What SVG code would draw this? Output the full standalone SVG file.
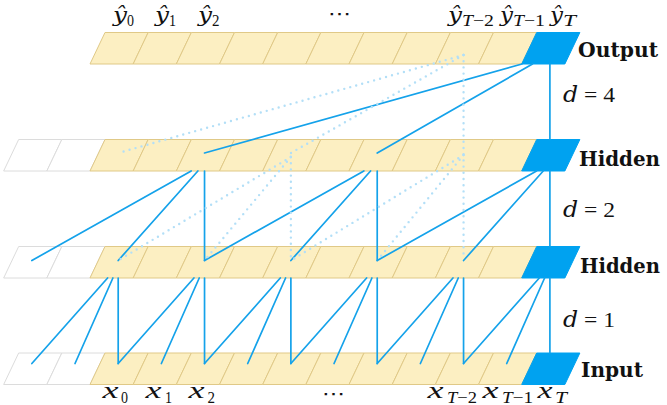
<svg xmlns="http://www.w3.org/2000/svg" xmlns:xlink="http://www.w3.org/1999/xlink" width="667" height="405" viewBox="0 0 667 405">
<style>
.beige{fill:#fcefc2;stroke:#e0c987;stroke-width:1}
.white{fill:#ffffff;stroke:#dcdcdc;stroke-width:1}
.blue{fill:#00a2f0;stroke:#00a2f0;stroke-width:1}
.conn line{stroke:#14a2ea;stroke-width:1.7;stroke-linecap:round;fill:none}
.dots line{stroke:#b3dff7;stroke-width:2.4;stroke-linecap:round;stroke-dasharray:0 6.2;fill:none}
.m{font-family:"DejaVu Serif","Liberation Serif",serif;font-size:20px;font-style:italic;fill:#111}
.mx{font-family:"Liberation Serif","Times New Roman",serif;font-size:24px;font-style:italic;fill:#111}
.s{font-family:"Liberation Serif","Times New Roman",serif;font-size:16px;fill:#111}
.b{font-family:"DejaVu Serif","Liberation Serif",serif;font-size:20px;font-weight:bold;fill:#111}
.d{font-family:"Liberation Serif","Times New Roman",serif;font-size:22px;fill:#111}
.di{font-family:"DejaVu Serif","Liberation Serif",serif;font-style:italic}
.dots3{font-family:"DejaVu Sans","Liberation Sans",sans-serif;font-size:18px;fill:#111}
</style>
<defs>
<polygon id="cell" points="0,0 43.17,0 28.17,31.5 -15,31.5"/>
</defs>

<g id="row-input">
<use xlink:href="#cell" class="white" x="18.66" y="353"/>
<use xlink:href="#cell" class="white" x="61.83" y="353"/>
<use xlink:href="#cell" class="beige" x="105" y="353"/>
<use xlink:href="#cell" class="beige" x="148.17" y="353"/>
<use xlink:href="#cell" class="beige" x="191.34" y="353"/>
<use xlink:href="#cell" class="beige" x="234.51" y="353"/>
<use xlink:href="#cell" class="beige" x="277.68" y="353"/>
<use xlink:href="#cell" class="beige" x="320.85" y="353"/>
<use xlink:href="#cell" class="beige" x="364.02" y="353"/>
<use xlink:href="#cell" class="beige" x="407.19" y="353"/>
<use xlink:href="#cell" class="beige" x="450.36" y="353"/>
<use xlink:href="#cell" class="beige" x="493.53" y="353"/>
<use xlink:href="#cell" class="blue" x="536.7" y="353"/>
<text class="b" x="581" y="377" textLength="62" lengthAdjust="spacingAndGlyphs">Input</text>
<text class="mx" x="102.5" y="397.5" textLength="16" lengthAdjust="spacingAndGlyphs">x</text>
<text class="s" x="121" y="402.5" textLength="7" lengthAdjust="spacingAndGlyphs">0</text>
<text class="mx" x="145.5" y="397.5" textLength="16" lengthAdjust="spacingAndGlyphs">x</text>
<text class="s" x="165" y="402.5" textLength="7" lengthAdjust="spacingAndGlyphs">1</text>
<text class="mx" x="188.5" y="397.5" textLength="16" lengthAdjust="spacingAndGlyphs">x</text>
<text class="s" x="207.5" y="402.5" textLength="7.5" lengthAdjust="spacingAndGlyphs">2</text>
<text class="dots3" x="322" y="400" textLength="23" lengthAdjust="spacingAndGlyphs">⋯</text>
<text class="mx" x="427.5" y="397.5" textLength="16" lengthAdjust="spacingAndGlyphs">x</text>
<text class="s" x="447" y="402.5" textLength="30" lengthAdjust="spacingAndGlyphs"><tspan font-style="italic">T</tspan>−2</text>
<text class="mx" x="482.5" y="397.5" textLength="16" lengthAdjust="spacingAndGlyphs">x</text>
<text class="s" x="502" y="402.5" textLength="31" lengthAdjust="spacingAndGlyphs"><tspan font-style="italic">T</tspan>−1</text>
<text class="mx" x="537.5" y="397.5" textLength="15" lengthAdjust="spacingAndGlyphs">x</text>
<text class="s" x="555" y="402.5" textLength="12" lengthAdjust="spacingAndGlyphs" font-style="italic">T</text>
</g>

<g id="row-hidden-lower">
<use xlink:href="#cell" class="white" x="18.66" y="246.5"/>
<use xlink:href="#cell" class="white" x="61.83" y="246.5"/>
<use xlink:href="#cell" class="beige" x="105" y="246.5"/>
<use xlink:href="#cell" class="beige" x="148.17" y="246.5"/>
<use xlink:href="#cell" class="beige" x="191.34" y="246.5"/>
<use xlink:href="#cell" class="beige" x="234.51" y="246.5"/>
<use xlink:href="#cell" class="beige" x="277.68" y="246.5"/>
<use xlink:href="#cell" class="beige" x="320.85" y="246.5"/>
<use xlink:href="#cell" class="beige" x="364.02" y="246.5"/>
<use xlink:href="#cell" class="beige" x="407.19" y="246.5"/>
<use xlink:href="#cell" class="beige" x="450.36" y="246.5"/>
<use xlink:href="#cell" class="beige" x="493.53" y="246.5"/>
<use xlink:href="#cell" class="blue" x="536.7" y="246.5"/>
<text class="b" x="580" y="273" textLength="80" lengthAdjust="spacingAndGlyphs">Hidden</text>
</g>

<g id="row-hidden-upper">
<use xlink:href="#cell" class="white" x="18.66" y="139.5"/>
<use xlink:href="#cell" class="white" x="61.83" y="139.5"/>
<use xlink:href="#cell" class="beige" x="105" y="139.5"/>
<use xlink:href="#cell" class="beige" x="148.17" y="139.5"/>
<use xlink:href="#cell" class="beige" x="191.34" y="139.5"/>
<use xlink:href="#cell" class="beige" x="234.51" y="139.5"/>
<use xlink:href="#cell" class="beige" x="277.68" y="139.5"/>
<use xlink:href="#cell" class="beige" x="320.85" y="139.5"/>
<use xlink:href="#cell" class="beige" x="364.02" y="139.5"/>
<use xlink:href="#cell" class="beige" x="407.19" y="139.5"/>
<use xlink:href="#cell" class="beige" x="450.36" y="139.5"/>
<use xlink:href="#cell" class="beige" x="493.53" y="139.5"/>
<use xlink:href="#cell" class="blue" x="536.7" y="139.5"/>
<text class="b" x="579" y="166" textLength="81" lengthAdjust="spacingAndGlyphs">Hidden</text>
</g>

<g id="row-output">
<use xlink:href="#cell" class="beige" x="105" y="32.5"/>
<use xlink:href="#cell" class="beige" x="148.17" y="32.5"/>
<use xlink:href="#cell" class="beige" x="191.34" y="32.5"/>
<use xlink:href="#cell" class="beige" x="234.51" y="32.5"/>
<use xlink:href="#cell" class="beige" x="277.68" y="32.5"/>
<use xlink:href="#cell" class="beige" x="320.85" y="32.5"/>
<use xlink:href="#cell" class="beige" x="364.02" y="32.5"/>
<use xlink:href="#cell" class="beige" x="407.19" y="32.5"/>
<use xlink:href="#cell" class="beige" x="450.36" y="32.5"/>
<use xlink:href="#cell" class="beige" x="493.53" y="32.5"/>
<use xlink:href="#cell" class="blue" x="536.7" y="32.5"/>
<text class="b" x="578" y="57" textLength="80" lengthAdjust="spacingAndGlyphs">Output</text>
<text class="m" x="113" y="21.5" textLength="14" lengthAdjust="spacingAndGlyphs">ŷ</text>
<text class="s" x="127" y="26" textLength="7" lengthAdjust="spacingAndGlyphs">0</text>
<text class="m" x="155" y="21.5" textLength="14" lengthAdjust="spacingAndGlyphs">ŷ</text>
<text class="s" x="169" y="26" textLength="7" lengthAdjust="spacingAndGlyphs">1</text>
<text class="m" x="198" y="21.5" textLength="14" lengthAdjust="spacingAndGlyphs">ŷ</text>
<text class="s" x="212" y="26" textLength="7.5" lengthAdjust="spacingAndGlyphs">2</text>
<text class="dots3" x="328" y="20" textLength="23" lengthAdjust="spacingAndGlyphs">⋯</text>
<text class="m" x="448" y="21.5" textLength="14" lengthAdjust="spacingAndGlyphs">ŷ</text>
<text class="s" x="462" y="26" textLength="32" lengthAdjust="spacingAndGlyphs"><tspan font-style="italic">T</tspan>−2</text>
<text class="m" x="500" y="21.5" textLength="13" lengthAdjust="spacingAndGlyphs">ŷ</text>
<text class="s" x="513" y="26" textLength="32" lengthAdjust="spacingAndGlyphs"><tspan font-style="italic">T</tspan>−1</text>
<text class="m" x="550" y="21.5" textLength="13" lengthAdjust="spacingAndGlyphs">ŷ</text>
<text class="s" x="563" y="26" textLength="13" lengthAdjust="spacingAndGlyphs" font-style="italic">T</text>
</g>

<g id="dilation-labels">
<text class="d" x="563" y="102" textLength="52" lengthAdjust="spacingAndGlyphs"><tspan class="di">d</tspan> = 4</text>
<text class="d" x="563" y="217" textLength="52" lengthAdjust="spacingAndGlyphs"><tspan class="di">d</tspan> = 2</text>
<text class="d" x="563" y="327" textLength="52" lengthAdjust="spacingAndGlyphs"><tspan class="di">d</tspan> = 1</text>
</g>

<g id="connectors">
<g class="conn">
<line x1="549.9" y1="64" x2="549.9" y2="139.5"/>
<line x1="532.5" y1="64" x2="377.22" y2="153"/>
<line x1="522" y1="64" x2="204.54" y2="153"/>
<line x1="204.54" y1="171" x2="204.54" y2="260.5"/>
<line x1="197.87" y1="171" x2="118.2" y2="260.5"/>
<line x1="191.19" y1="171" x2="31.86" y2="260.5"/>
<line x1="377.22" y1="171" x2="377.22" y2="260.5"/>
<line x1="370.55" y1="171" x2="290.88" y2="260.5"/>
<line x1="363.87" y1="171" x2="204.54" y2="260.5"/>
<line x1="549.9" y1="171" x2="549.9" y2="246.5"/>
<line x1="543.23" y1="171" x2="463.56" y2="260.5"/>
<line x1="536.55" y1="171" x2="377.22" y2="260.5"/>
<line x1="118.2" y1="278" x2="118.2" y2="363.5"/>
<line x1="112.9" y1="278" x2="75.03" y2="363.5"/>
<line x1="107.6" y1="278" x2="31.86" y2="363.5"/>
<line x1="204.54" y1="278" x2="204.54" y2="363.5"/>
<line x1="199.24" y1="278" x2="161.37" y2="363.5"/>
<line x1="193.94" y1="278" x2="118.2" y2="363.5"/>
<line x1="290.88" y1="278" x2="290.88" y2="363.5"/>
<line x1="285.58" y1="278" x2="247.71" y2="363.5"/>
<line x1="280.28" y1="278" x2="204.54" y2="363.5"/>
<line x1="377.22" y1="278" x2="377.22" y2="363.5"/>
<line x1="371.92" y1="278" x2="334.05" y2="363.5"/>
<line x1="366.62" y1="278" x2="290.88" y2="363.5"/>
<line x1="463.56" y1="278" x2="463.56" y2="363.5"/>
<line x1="458.26" y1="278" x2="420.39" y2="363.5"/>
<line x1="452.96" y1="278" x2="377.22" y2="363.5"/>
<line x1="549.9" y1="278" x2="549.9" y2="353"/>
<line x1="544.6" y1="278" x2="506.73" y2="363.5"/>
<line x1="539.3" y1="278" x2="463.56" y2="363.5"/>
</g>
<g class="dots">
<line x1="463.56" y1="55" x2="463.56" y2="258"/>
<line x1="463.56" y1="55" x2="118.2" y2="153"/>
<line x1="463.56" y1="55" x2="290.88" y2="153"/>
<line x1="463.56" y1="155" x2="377.22" y2="260.5"/>
<line x1="463.56" y1="155" x2="290.88" y2="260.5"/>
<line x1="290.88" y1="157" x2="290.88" y2="258"/>
<line x1="290.88" y1="157" x2="204.54" y2="260.5"/>
<line x1="290.88" y1="157" x2="118.2" y2="260.5"/>
</g>
</g>
</svg>
